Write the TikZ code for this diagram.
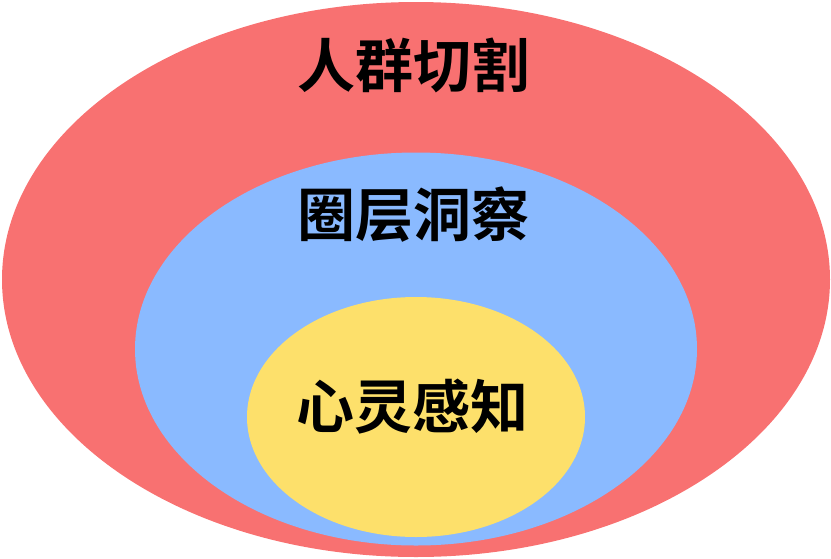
\documentclass[tikz,border=0pt]{standalone}
\usepackage{fontspec}
\newfontfamily\cjk{Noto Sans CJK SC}[BoldFont={Noto Sans CJK SC Bold}]
\usetikzlibrary{shapes.geometric, positioning}
\definecolor{ringred}{RGB}{248,113,113}
\definecolor{ringblue}{RGB}{138,186,255}
\definecolor{ringyellow}{RGB}{253,224,107}

\begin{document}
\begin{tikzpicture}[
        x=1pt, y=-1pt,
        ring/.style={ellipse, draw=none, inner sep=0pt},
        title/.style={font=\cjk\bfseries\fontsize{58}{60}\selectfont, text=black, inner sep=0pt}
    ]
        \useasboundingbox (0,0) rectangle (831,558);
        \node[ring, fill=ringred, minimum width=828pt, minimum height=555pt] (outer) at (416,279.5) {};
        \node[ring, fill=ringblue, minimum width=562pt, minimum height=393pt] (middle) at (416,349) {};
        \node[ring, fill=ringyellow, minimum width=338pt, minimum height=240pt] (inner) at (416,417) {};
        \node[title] (crowd) at (413,65) {人群切割};
        \node[title] (circle) at (413,215) {圈层洞察};
        \node[title] (mind) at (412,407) {心灵感知};
    \end{tikzpicture}
\end{document}
